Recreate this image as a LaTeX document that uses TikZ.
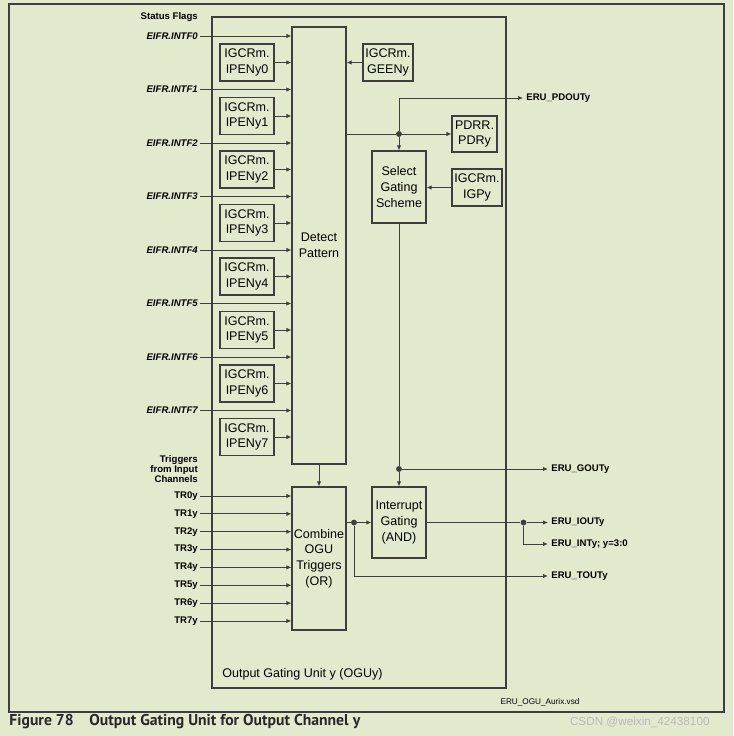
\documentclass[tikz,border=0pt]{standalone}
\usepackage{fontspec}
\setmainfont{Liberation Sans}
\newfontfamily\capfont{PT Sans}
\usepackage{xcolor}
\definecolor{bggreen}{RGB}{226,234,205}
\definecolor{linegray}{RGB}{62,62,62}
\definecolor{capgray}{RGB}{40,40,40}
\definecolor{markgray}{RGB}{185,185,185}
\usetikzlibrary{arrows.meta}

\begin{document}
\begin{tikzpicture}[x=0.03cm,y=-0.03cm,color=linegray,text=black,line width=0.75pt,>={Latex[length=1.5mm,width=1.3mm]}]
	\tikzstyle{blk}=[draw,rectangle,line width=0.9pt,inner sep=0pt,align=center,font=\fontsize{10.7}{13.3}\selectfont];
	\tikzstyle{flag}=[anchor=east,inner sep=1.5pt,font=\fontsize{8.2}{9}\selectfont\bfseries\itshape];
	\tikzstyle{trig}=[anchor=east,inner sep=1.5pt,align=right,font=\fontsize{8.2}{8.7}\selectfont\bfseries];
	\tikzstyle{sig}=[anchor=west,inner sep=2.5pt,font=\fontsize{8.2}{9}\selectfont\bfseries];
	\tikzstyle{dot}=[circle,fill=linegray,inner sep=0pt,minimum size=5pt];
	% background and frames
	\fill[bggreen] (0,0) rectangle (733,736);
	\useasboundingbox (0,0) rectangle (733,736);
	\draw[line width=0.9pt] (9,4) rectangle (724,712);
	\draw[line width=0.9pt] (212,17) rectangle (506,688);
	% blocks
	\node[blk,minimum width=1.62cm,minimum height=13.11cm] (det) at (319,245.5) {Detect\\Pattern};
	\node[blk,minimum width=1.5cm,minimum height=1.11cm] (geen) at (388,62.5) {IGCRm.\\GEENy};
	\node[blk,minimum width=1.35cm,minimum height=1.08cm] (pdrr) at (474.5,134) {PDRR.\\PDRy};
	\node[blk,minimum width=1.62cm,minimum height=2.16cm] (sel) at (399,187) {Select\\Gating\\Scheme};
	\node[blk,minimum width=1.5cm,minimum height=1.11cm] (igp) at (477,187.5) {IGCRm.\\IGPy};
	\node[blk,minimum width=1.62cm,minimum height=4.29cm] (comb) at (319,558.5) {Combine\\OGU\\Triggers\\(OR)};
	\node[blk,minimum width=1.62cm,minimum height=2.13cm] (intg) at (399,522.5) {Interrupt\\Gating\\(AND)};
	% inputs
	\node[trig] (flags) at (200,17) {Status Flags};
	\foreach \k in {0,...,7}{
		\node[flag] (e\k) at (200,36+53.5*\k) {EIFR.INTF\k};
		\node[blk,minimum width=1.62cm,minimum height=1.11cm] (p\k) at (247,62.5+53.5*\k) {IGCRm.\\IPENy\k};
		\draw[->] (e\k.east) -- (e\k.east -| det.west);
		\draw[->] (p\k.east) -- (p\k.east -| det.west);
	}
	\node[trig] (trg) at (200,469) {Triggers\\from Input\\Channels};
	\foreach \k in {0,...,7}{
		\node[trig] (t\k) at (200,496+17.85*\k) {TR\k y};
		\draw[->] (t\k.east) -- (t\k.east -| comb.west);
	}
	% outputs
	\node[sig] (pdout) at (523,98) {ERU\_PDOUTy};
	\node[sig] (gout) at (548,469) {ERU\_GOUTy};
	\node[sig] (iout) at (548,522.5) {ERU\_IOUTy};
	\node[sig] (eint) at (548,544) {ERU\_INTy; y=3:0};
	\node[sig] (tout) at (548,576) {ERU\_TOUTy};
	\node[dot] (d1) at (399,134) {};
	\node[dot] (d2) at (399,469) {};
	\node[dot] (d3) at (354,522.5) {};
	\node[dot] (d4) at (523.5,522.5) {};
	% connections
	\draw[->] (geen.west) -- (geen.west -| det.east);
	\draw (det.east |- d1) -- (d1);
	\draw[->] (d1) -- (pdrr.west);
	\draw[->] (d1) -- (sel.north);
	\draw[->] (d1) |- (pdout.west);
	\draw[->] (igp.west) -- (igp.west -| sel.east);
	\draw (sel.south) -- (d2);
	\draw[->] (d2) -- (intg.north);
	\draw[->] (d2) -- (gout.west);
	\draw[->] (det.south) -- (comb.north);
	\draw (comb.east |- d3) -- (d3);
	\draw[->] (d3) -- (intg.west);
	\draw[->] (d3) |- (tout.west);
	\draw (intg.east) -- (d4);
	\draw[->] (d4) -- (iout.west);
	\draw[->] (d4) |- (eint.west);
	% texts
	\node[anchor=west,font=\fontsize{10.7}{13}\selectfont] (ogul) at (218,674) {Output Gating Unit y (OGUy)};
	\node[font=\fontsize{7}{8}\selectfont] (vsd) at (540,702) {ERU\_OGU\_Aurix.vsd};
	\node[anchor=west,inner sep=0pt,text=capgray,font=\capfont\bfseries\fontsize{13.4}{15}\selectfont] (fig) at (9,722) {Figure 78};
	\node[anchor=west,inner sep=0pt,text=capgray,font=\capfont\bfseries\fontsize{13.4}{15}\selectfont] (title) at (89,722) {Output Gating Unit for Output Channel y};
	\node[anchor=east,inner sep=0pt,text=markgray,font=\fontsize{10}{12}\selectfont] (wm) at (710,722) {CSDN @weixin\_42438100};
\end{tikzpicture}
\end{document}
